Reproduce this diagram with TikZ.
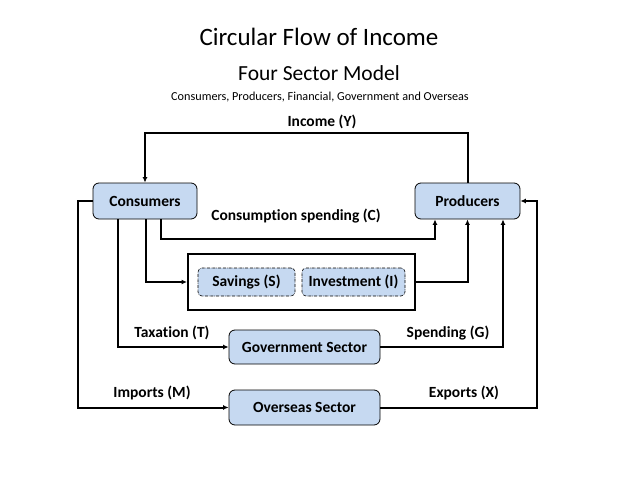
\documentclass[tikz,border=0pt]{standalone}
\usepackage{fontspec}
\setmainfont[Ligatures=NoCommon]{Carlito}
\usetikzlibrary{positioning,arrows.meta}

\definecolor{sectorblue}{RGB}{198,217,241}

\begin{document}
\begin{tikzpicture}[x=1pt, y=-1pt, >={Latex[length=5.5pt,width=5pt]},
    every node/.style={font=\fontsize{15.5}{17}\selectfont\bfseries},
    sector/.style={draw, rounded corners=6pt, fill=sectorblue, line width=0.8pt, minimum height=36pt},
    flowbox/.style={draw, rounded corners=4pt, fill=sectorblue, densely dashdotted, line width=0.6pt, minimum height=28pt},
    flow/.style={->, line width=2pt}]
  \useasboundingbox (0,0) rectangle (638,479);

  % titles
  \node[font=\fontsize{25}{28}\selectfont] (title) at (319,37) {Circular Flow of Income};
  \node[font=\fontsize{21.5}{24}\selectfont] (model) at (319,73) {Four Sector Model};
  \node[font=\fontsize{12.2}{14}\selectfont] (sub) at (320,97) {Consumers, Producers, Financial, Government and Overseas};

  % sectors
  \node[sector, minimum width=104pt] (cons) at (145,201) {Consumers};
  \node[sector, minimum width=105pt] (prod) at (467.5,201) {Producers};
  \node[draw, line width=2pt, minimum width=227pt, minimum height=56pt] (fin) at (301.5,282) {};
  \node[flowbox, minimum width=97pt] (sav) at (246.5,282) {Savings (S)};
  \node[flowbox, minimum width=103pt] (inv) at (353.5,282) {Investment (I)};
  \node[sector, minimum width=151pt, minimum height=34pt] (gov) at (304.5,347) {Government Sector};
  \node[sector, minimum width=151pt, minimum height=35pt] (over) at (304.5,407.5) {Overseas Sector};

  % flow labels
  \node (income) at (322,122) {Income (Y)};
  \node (spend) at (296,216) {Consumption spending (C)};
  \node (tax) at (172,333) {Taxation (T)};
  \node (gspend) at (448,333) {Spending (G)};
  \node (imp) at (152,393) {Imports (M)};
  \node (exp) at (464,393) {Exports (X)};

  % flows
  \draw[flow] (prod.north) -- ++(0,-50) -| (cons.north);
  \draw[flow] (161,0 |- cons.south) -- (161,239) -| (435,0 |- prod.south);
  \draw[flow] (146,0 |- cons.south) |- (fin.west);
  \draw[flow] (fin.east) -| (prod.south);
  \draw[flow] (118,0 |- cons.south) |- (gov.west);
  \draw[flow] (gov.east) -| (503,0 |- prod.south);
  \draw[flow] (cons.west) -- (78,0 |- cons.west) |- (over.west);
  \draw[flow] (over.east) -- (537,0 |- over.east) |- (prod.east);
\end{tikzpicture}
\end{document}
